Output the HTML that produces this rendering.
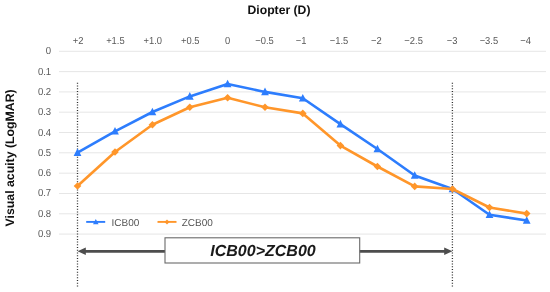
<!DOCTYPE html>
<html><head><meta charset="utf-8">
<style>
html,body{margin:0;padding:0;background:#fff;}
svg{display:block;font-family:"Liberation Sans",sans-serif;text-rendering:geometricPrecision;}
</style></head><body>
<svg width="550" height="292" viewBox="0 0 550 292">
<rect width="550" height="292" fill="#fff"/>
<g stroke="#e3e3e3" stroke-width="0.9">
<line x1="59" x2="546" y1="51.3" y2="51.3"/>
<line x1="59" x2="546" y1="71.6" y2="71.6"/>
<line x1="59" x2="546" y1="91.9" y2="91.9"/>
<line x1="59" x2="546" y1="112.2" y2="112.2"/>
<line x1="59" x2="546" y1="132.5" y2="132.5"/>
<line x1="59" x2="546" y1="152.8" y2="152.8"/>
<line x1="59" x2="546" y1="173.2" y2="173.2"/>
<line x1="59" x2="546" y1="193.5" y2="193.5"/>
<line x1="59" x2="546" y1="213.8" y2="213.8"/>
<line x1="59" x2="546" y1="234.1" y2="234.1"/>
</g>
<text x="279" y="14" font-size="12.2" font-weight="bold" fill="#111" text-anchor="middle">Diopter (D)</text>
<text transform="translate(14.1,157.9) rotate(-90)" font-size="12.3" font-weight="bold" fill="#111" text-anchor="middle">Visual acuity (LogMAR)</text>
<g font-size="10.2" fill="#595959" text-anchor="middle">
<text transform="translate(78.0,43.6) scale(0.92,1)">+2</text>
<text transform="translate(115.4,43.6) scale(0.92,1)">+1.5</text>
<text transform="translate(152.7,43.6) scale(0.92,1)">+1.0</text>
<text transform="translate(190.3,43.6) scale(0.92,1)">+0.5</text>
<text transform="translate(227.7,43.6) scale(0.92,1)">0</text>
<text transform="translate(264.5,43.6) scale(0.92,1)">−0.5</text>
<text transform="translate(301.2,43.6) scale(0.92,1)">−1</text>
<text transform="translate(339.0,43.6) scale(0.92,1)">−1.5</text>
<text transform="translate(376.4,43.6) scale(0.92,1)">−2</text>
<text transform="translate(413.6,43.6) scale(0.92,1)">−2.5</text>
<text transform="translate(452.1,43.6) scale(0.92,1)">−3</text>
<text transform="translate(488.9,43.6) scale(0.92,1)">−3.5</text>
<text transform="translate(525.5,43.6) scale(0.92,1)">−4</text>
</g>
<g font-size="10.2" fill="#595959" text-anchor="end">
<text transform="translate(51.2,54.2) scale(0.94,1)">0</text>
<text transform="translate(51.2,74.6) scale(0.94,1)">0.1</text>
<text transform="translate(51.2,94.9) scale(0.94,1)">0.2</text>
<text transform="translate(51.2,115.2) scale(0.94,1)">0.3</text>
<text transform="translate(51.2,135.5) scale(0.94,1)">0.4</text>
<text transform="translate(51.2,155.8) scale(0.94,1)">0.5</text>
<text transform="translate(51.2,176.1) scale(0.94,1)">0.6</text>
<text transform="translate(51.2,196.4) scale(0.94,1)">0.7</text>
<text transform="translate(51.2,216.7) scale(0.94,1)">0.8</text>
<text transform="translate(51.2,237.0) scale(0.94,1)">0.9</text>
</g>
<g stroke="#2e2e2e" stroke-width="1.3" stroke-dasharray="1.0,1.74">
<line x1="77.5" x2="77.5" y1="82.7" y2="286.8"/>
<line x1="452.4" x2="452.4" y1="82.7" y2="286.8"/>
</g>
<polyline fill="none" stroke="#2d7dfd" stroke-width="2.6" stroke-linejoin="round" points="77.5,152.6 115,131.3 152.4,112 189.8,96.4 227.6,84 265,91.9 302.8,98.2 340.4,124.1 377.4,149.0 414.7,175.5 452.5,189 489.5,214.7 526.7,220.5"/>
<g fill="#2d7dfd">
<path d="M77.5,148.3 l3.9,7.6 h-7.8z"/>
<path d="M115,127.0 l3.9,7.6 h-7.8z"/>
<path d="M152.4,107.7 l3.9,7.6 h-7.8z"/>
<path d="M189.8,92.1 l3.9,7.6 h-7.8z"/>
<path d="M227.6,79.7 l3.9,7.6 h-7.8z"/>
<path d="M265,87.6 l3.9,7.6 h-7.8z"/>
<path d="M302.8,93.9 l3.9,7.6 h-7.8z"/>
<path d="M340.4,119.8 l3.9,7.6 h-7.8z"/>
<path d="M377.4,144.7 l3.9,7.6 h-7.8z"/>
<path d="M414.7,171.2 l3.9,7.6 h-7.8z"/>
<path d="M452.5,184.7 l3.9,7.6 h-7.8z"/>
<path d="M489.5,210.4 l3.9,7.6 h-7.8z"/>
<path d="M526.7,216.2 l3.9,7.6 h-7.8z"/>
</g>
<polyline fill="none" stroke="#ff962a" stroke-width="2.6" stroke-linejoin="round" points="77.5,186 115,152 152.4,124.7 189.8,107.3 227.6,97.8 265,107.3 302.8,113.4 340.4,145.6 377.4,166.5 414.7,186.4 452.5,189 489.5,207.5 526.7,213.6"/>
<g fill="#ff962a">
<path d="M77.5,182.2 l3.8,3.8 l-3.8,3.8 l-3.8,-3.8z"/>
<path d="M115,148.2 l3.8,3.8 l-3.8,3.8 l-3.8,-3.8z"/>
<path d="M152.4,120.9 l3.8,3.8 l-3.8,3.8 l-3.8,-3.8z"/>
<path d="M189.8,103.5 l3.8,3.8 l-3.8,3.8 l-3.8,-3.8z"/>
<path d="M227.6,94.0 l3.8,3.8 l-3.8,3.8 l-3.8,-3.8z"/>
<path d="M265,103.5 l3.8,3.8 l-3.8,3.8 l-3.8,-3.8z"/>
<path d="M302.8,109.6 l3.8,3.8 l-3.8,3.8 l-3.8,-3.8z"/>
<path d="M340.4,141.8 l3.8,3.8 l-3.8,3.8 l-3.8,-3.8z"/>
<path d="M377.4,162.7 l3.8,3.8 l-3.8,3.8 l-3.8,-3.8z"/>
<path d="M414.7,182.6 l3.8,3.8 l-3.8,3.8 l-3.8,-3.8z"/>
<path d="M452.5,185.2 l3.8,3.8 l-3.8,3.8 l-3.8,-3.8z"/>
<path d="M489.5,203.7 l3.8,3.8 l-3.8,3.8 l-3.8,-3.8z"/>
<path d="M526.7,209.8 l3.8,3.8 l-3.8,3.8 l-3.8,-3.8z"/>
</g>
<line x1="86.2" x2="105.2" y1="221.9" y2="221.9" stroke="#2d7dfd" stroke-width="1.9"/>
<path d="M95.8,219.0 l2.8,5.3 h-5.6z" fill="#2d7dfd"/>
<text x="111.5" y="225.6" font-size="10" fill="#555">ICB00</text>
<line x1="157.5" x2="176.5" y1="221.9" y2="221.9" stroke="#ff962a" stroke-width="1.9"/>
<path d="M167,219.4 l2.5,2.5 l-2.5,2.5 l-2.5,-2.5z" fill="#ff962a"/>
<text x="181.7" y="225.6" font-size="10" fill="#555">ZCB00</text>
<line x1="84" x2="446" y1="251.3" y2="251.3" stroke="#4d4d4d" stroke-width="2.7"/>
<path d="M77.6,251.3 l8.2,-3.7 v7.4z" fill="#4d4d4d"/>
<path d="M452.4,251.3 l-8.2,-3.7 v7.4z" fill="#4d4d4d"/>
<rect x="165" y="237.8" width="194.7" height="25.2" fill="#fff" stroke="#6a6a6a" stroke-width="1.1"/>
<text x="263" y="256.1" font-size="16" font-weight="bold" font-style="italic" fill="#1a1a1a" text-anchor="middle">ICB00&gt;ZCB00</text>
</svg>
</body></html>
